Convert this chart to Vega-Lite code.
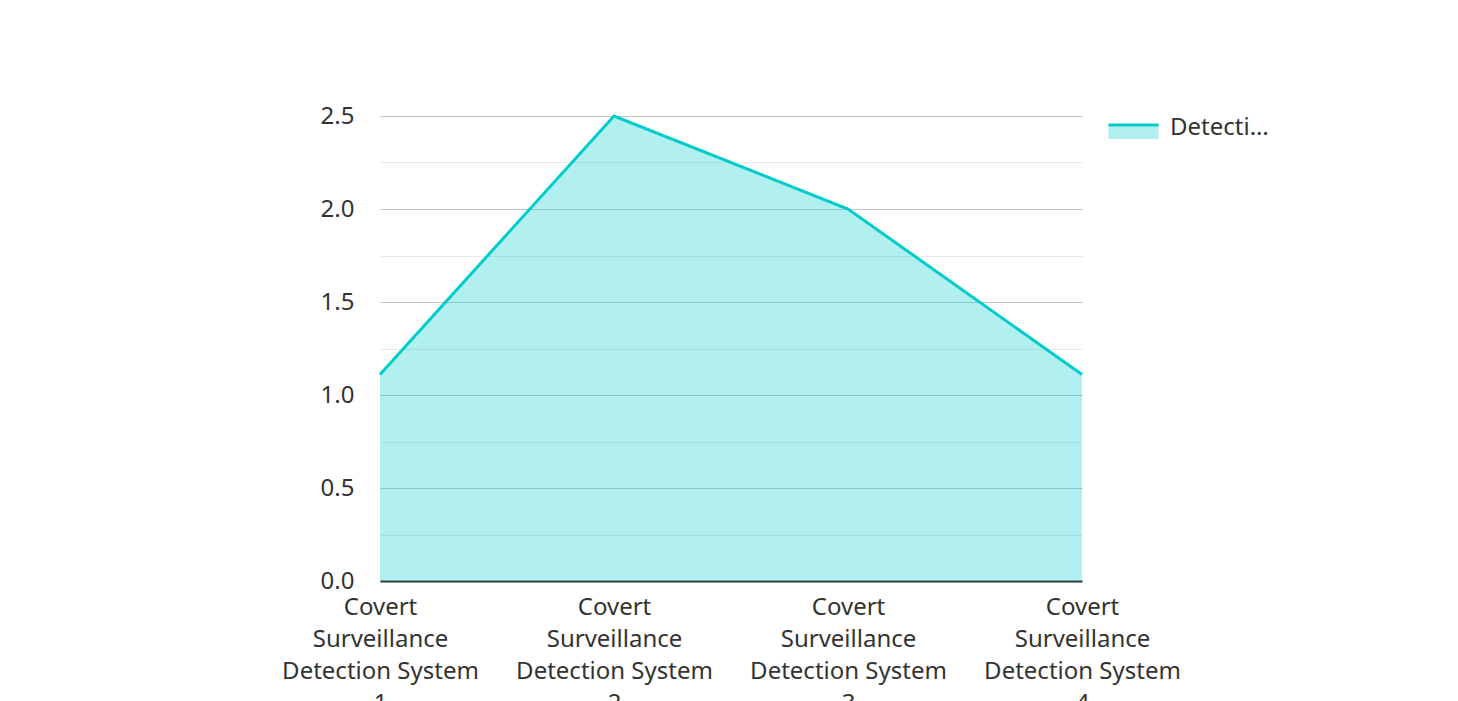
{
  "$schema": "https://vega.github.io/schema/vega-lite/v6.json",
  "autosize": {"type": "none"},
  "padding": {"left": 380, "top": 116, "right": 376, "bottom": 120},
  "width": 702,
  "height": 465,
  "background": "white",
  "config": {
    "font": "Noto Sans",
    "view": {"stroke": null}
  },
  "data": {
    "values": [
      {"system": "Covert Surveillance Detection System 1", "series": "Detection Accuracy", "value": 1.11},
      {"system": "Covert Surveillance Detection System 2", "series": "Detection Accuracy", "value": 2.5},
      {"system": "Covert Surveillance Detection System 3", "series": "Detection Accuracy", "value": 2.0},
      {"system": "Covert Surveillance Detection System 4", "series": "Detection Accuracy", "value": 1.11}
    ]
  },
  "encoding": {
    "x": {
      "field": "system",
      "type": "nominal",
      "sort": null,
      "scale": {"type": "point", "padding": 0},
      "axis": {
        "title": null,
        "labelAngle": 0,
        "labelFontSize": 24,
        "labelColor": "#333333",
        "labelLineHeight": 32,
        "labelPadding": 14,
        "labelLimit": 400,
        "labelBaseline": "top",
        "labelExpr": "[slice(datum.label,0,6), slice(datum.label,7,19), slice(datum.label,20,36), slice(datum.label,37)]",
        "ticks": false,
        "grid": false,
        "domain": true,
        "domainColor": "#333333",
        "domainWidth": 2
      }
    },
    "y": {
      "field": "value",
      "type": "quantitative",
      "scale": {"domain": [0, 2.5], "nice": false},
      "axis": {
        "title": null,
        "values": [0, 0.25, 0.5, 0.75, 1, 1.25, 1.5, 1.75, 2, 2.25, 2.5],
        "labelExpr": "datum.value % 0.5 === 0 ? format(datum.value, '.1f') : ''",
        "labelFontSize": 24,
        "labelColor": "#333333",
        "labelPadding": 26,
        "ticks": false,
        "domain": false,
        "grid": true,
        "gridColor": {"condition": {"test": "datum.value % 0.5 !== 0", "value": "#e8e8e8"}, "value": "#c4c4c4"},
        "gridWidth": 1.2
      }
    }
  },
  "layer": [
    {
      "mark": {"type": "area", "color": "#00cccc", "opacity": 0.3},
      "encoding": {}
    },
    {
      "mark": {"type": "line", "strokeWidth": 3},
      "encoding": {
        "color": {
          "field": "series",
          "type": "nominal",
          "scale": {"range": ["#00cccc"]},
          "legend": {
            "title": null,
            "orient": "none",
            "legendX": 739.5,
            "legendY": 2,
            "padding": 0,
            "labelFontSize": 24,
            "labelColor": "#333333",
            "labelLimit": 100,
            "labelOffset": 22.5,
            "symbolType": "M-2,-0.56L2,-0.56L2,0.56L-2,0.56Z",
            "symbolSize": 625,
            "symbolStrokeWidth": 3,
            "symbolDash": [50, 200],
            "encode": {
              "labels": {
                "update": {"dy": {"value": -4}}
              },
              "symbols": {
                "update": {
                  "fill": {"value": "#b2efef"},
                  "fillOpacity": {"value": 1},
                  "strokeWidth": {"value": 3},
                  "strokeDash": {"value": [50, 200]}
                }
              }
            }
          }
        }
      }
    }
  ]
}
